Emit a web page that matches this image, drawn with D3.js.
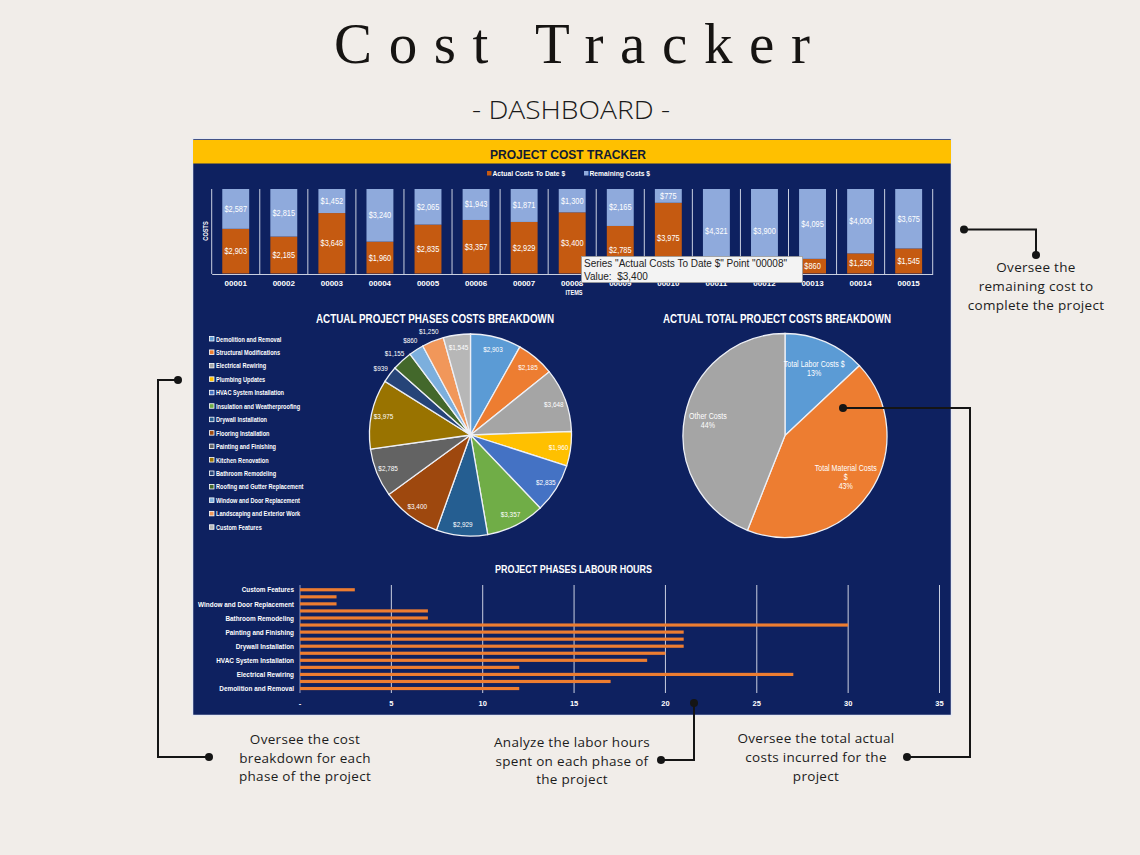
<!DOCTYPE html>
<html><head><meta charset="utf-8">
<script src="https://cdn.jsdelivr.net/npm/d3@7/dist/d3.min.js"></script>
<style>
body{margin:0;background:#f1ede9;}
svg{display:block;}
</style></head>
<body>
<svg id="chart" width="1140" height="855"></svg>
<script>
// ---------- DATA ----------
const items = ["00001","00002","00003","00004","00005","00006","00007","00008","00009","00010","00011","00012","00013","00014","00015"];
const actualCosts = [2903,2185,3648,1960,2835,3357,2929,3400,2785,3975,0,0,860,1250,1545];
const remainingCosts = [2587,2815,1452,3240,2065,1943,1871,1300,2165,775,4321,3900,4095,4000,3675];
const seriesNames = ["Actual Costs To Date $","Remaining Costs $"];

const phases = ["Demolition and Removal","Structural Modifications","Electrical Rewiring","Plumbing Updates","HVAC System Installation","Insulation and Weatherproofing","Drywall Installation","Flooring Installation","Painting and Finishing","Kitchen Renovation","Bathroom Remodeling","Roofing and Gutter Replacement","Window and Door Replacement","Landscaping and Exterior Work","Custom Features"];
const phaseCosts = [2903,2185,3648,1960,2835,3357,2929,3400,2785,3975,939,1155,860,1250,1545];
const labourHours = [12,17,27,12,19,20,21,21,21,30,7,7,2,2,3];
const hourTicks = [0,5,10,15,20,25,30,35];

const totalCats = ["Total Labor Costs $","Total Material Costs $","Other Costs"];
const totalPct = [13,43,44];
const totalLabelLines = [["Total Labor Costs $"],["Total Material Costs","$"],["Other Costs"]];

const pieColors = ["#5B9BD5","#ED7D31","#A5A5A5","#FFC000","#4472C4","#70AD47","#255E91","#9E480E","#636363","#997300","#264478","#43682B","#7CAFDD","#F1975A","#B7B7B7"];

// ---------- SETUP ----------
const SANS = "'Liberation Sans',Arial,sans-serif";
const NAVY = "#0e2160";
const svg = d3.select("#chart");
// condense text horizontally (emulates a narrow face)
function narrow(sel, f){
  sel.each(function(){
    const w = this.getComputedTextLength();
    if(w>0){ this.setAttribute("textLength", w*f); this.setAttribute("lengthAdjust","spacingAndGlyphs"); }
  });
  return sel;
}

// Title
svg.append("text").attr("x",334).attr("y",63).attr("textLength",476).attr("lengthAdjust","spacing")
  .style("font-family","'Liberation Serif','DejaVu Serif',serif").style("font-size","57px").attr("fill","#161412")
  .text("Cost Tracker");
svg.append("text").attr("x",472).attr("y",119).attr("textLength",198).attr("lengthAdjust","spacingAndGlyphs")
  .style("font-family","'Open Sans',sans-serif").style("font-weight",300).style("font-size","25px").attr("fill","#1a1a1a")
  .text("- DASHBOARD -");

// Panel
svg.append("rect").attr("x",192.5).attr("y",138.5).attr("width",759).attr("height",577).attr("fill",NAVY).attr("stroke","#e8eaf2").attr("stroke-width",1.5);
svg.append("rect").attr("x",193).attr("y",140).attr("width",758).attr("height",23.5).attr("fill","#FFC000");
svg.append("text").attr("x",490).attr("y",158.5).attr("textLength",156).attr("lengthAdjust","spacingAndGlyphs")
  .style("font-family",SANS).style("font-weight","bold").style("font-size","13px").attr("fill","#111a33")
  .text("PROJECT COST TRACKER");

// ---------- STACKED 100% BAR ----------
const xB = d3.scaleBand().domain(items).range([211.7,932.7]).padding(0);
const yB = d3.scaleLinear().domain([0,1]).range([273.5,189]);
const barW = xB.bandwidth()*0.56;
const gBar = svg.append("g");
gBar.selectAll("line.sep").data(d3.range(items.length+1)).join("line")
  .attr("x1",i=>211.7+i*xB.step()).attr("x2",i=>211.7+i*xB.step())
  .attr("y1",189).attr("y2",274).attr("stroke","#c9cfe0").attr("stroke-width",1);
const stackData = items.map((it,i)=>({it,a:actualCosts[i],r:remainingCosts[i],t:actualCosts[i]+remainingCosts[i]}));
stackData.forEach(d=>{
  const x0 = xB(d.it)+(xB.bandwidth()-barW)/2;
  const yA = yB(d.a/d.t);
  gBar.append("rect").attr("x",x0).attr("width",barW).attr("y",yA).attr("height",yB(0)-yA).attr("fill","#C55A11");
  gBar.append("rect").attr("x",x0).attr("width",barW).attr("y",yB(1)).attr("height",yA-yB(1)).attr("fill","#8FAADC");
  const cx = xB(d.it)+xB.bandwidth()/2;
  if(d.a>0) narrow(gBar.append("text").attr("x",cx).attr("y",(yA+yB(0))/2+3).attr("text-anchor","middle")
    .style("font-family",SANS).style("font-size","9px").attr("fill","#fff").text(d3.format("$,")(d.a)),0.82);
  narrow(gBar.append("text").attr("x",cx).attr("y",(yA+yB(1))/2+3).attr("text-anchor","middle")
    .style("font-family",SANS).style("font-size","9px").attr("fill","#fff").text(d3.format("$,")(d.r)),0.82);
});
const xAxisB = gBar.append("g").attr("transform","translate(0,274)").call(d3.axisBottom(xB).tickSize(0).tickPadding(6));
xAxisB.select(".domain").attr("stroke","#c9cfe0");
xAxisB.selectAll("text").style("font-family",SANS).style("font-weight","bold").style("font-size","8px").attr("fill","#fff");
narrow(svg.append("text").attr("transform","translate(208,231) rotate(-90)").attr("text-anchor","middle")
  .style("font-family",SANS).style("font-weight","bold").style("font-size","7px").attr("fill","#fff").text("COSTS"),0.8);
narrow(svg.append("text").attr("x",574).attr("y",295).attr("text-anchor","middle")
  .style("font-family",SANS).style("font-weight","bold").style("font-size","7px").attr("fill","#fff").text("ITEMS"),0.8);
const lg = [{x:487,c:"#C55A11",t:seriesNames[0]},{x:584,c:"#8FAADC",t:seriesNames[1]}];
lg.forEach(l=>{
  svg.append("rect").attr("x",l.x).attr("y",171).attr("width",4.5).attr("height",4.5).attr("fill",l.c);
  narrow(svg.append("text").attr("x",l.x+5.5).attr("y",176).style("font-family",SANS).style("font-weight","bold").style("font-size","8px").attr("fill","#fff").text(l.t),0.84);
});

// ---------- LEFT PIE ----------
svg.append("text").attr("x",316).attr("y",322.5).attr("textLength",238).attr("lengthAdjust","spacingAndGlyphs")
  .style("font-family",SANS).style("font-weight","bold").style("font-size","12px").attr("fill","#fff")
  .text("ACTUAL PROJECT PHASES COSTS BREAKDOWN");
const pie = d3.pie().sort(null).value(d=>d);
const R1 = 101;
const gP1 = svg.append("g").attr("transform","translate(470.5,435)");
const arcs1 = pie(phaseCosts);
const tot1 = d3.sum(phaseCosts);
gP1.selectAll("path").data(arcs1).join("path").attr("d",d3.arc().innerRadius(0).outerRadius(R1))
  .attr("fill",(d,i)=>pieColors[i]).attr("stroke","#eef0f6").attr("stroke-width",1.3);
narrow(gP1.selectAll("text").data(arcs1).join("text").each(function(d){
  const a=(d.startAngle+d.endAngle)/2;
  const small = d.value/tot1 < 0.04;
  const rr = small ? R1*1.11 : R1*0.88;
  d3.select(this).attr("x",Math.sin(a)*rr).attr("y",-Math.cos(a)*rr+3);
}).attr("text-anchor","middle").style("font-family",SANS).style("font-size","8px").attr("fill","#fff")
  .text(d=>d3.format("$,")(d.value)),0.8);
phases.forEach((p,i)=>{
  const y = 339+i*13.45;
  svg.append("rect").attr("x",209.5).attr("y",y-2.5).attr("width",4.5).attr("height",4.5).attr("fill",pieColors[i]).attr("stroke","#fff").attr("stroke-width",0.8);
  narrow(svg.append("text").attr("x",216).attr("y",y+2.5).style("font-family",SANS).style("font-weight","bold").style("font-size","7px").attr("fill","#fff").text(p),0.8);
});

// ---------- RIGHT PIE ----------
svg.append("text").attr("x",663).attr("y",323).attr("textLength",228).attr("lengthAdjust","spacingAndGlyphs")
  .style("font-family",SANS).style("font-weight","bold").style("font-size","12px").attr("fill","#fff")
  .text("ACTUAL TOTAL PROJECT COSTS BREAKDOWN");
const R2 = 102;
const gP2 = svg.append("g").attr("transform","translate(785,435.5)");
const arcs2 = pie(totalPct);
gP2.selectAll("path").data(arcs2).join("path").attr("d",d3.arc().innerRadius(0).outerRadius(R2))
  .attr("fill",(d,i)=>pieColors[i]).attr("stroke","#eef0f6").attr("stroke-width",1.3);
const labR = [0.72,0.72,0.77];
arcs2.forEach((d,i)=>{
  const a=(d.startAngle+d.endAngle)/2;
  const cx=Math.sin(a)*R2*labR[i], cy=-Math.cos(a)*R2*labR[i];
  const lines = totalLabelLines[i].concat([totalPct[i]+"%"]);
  const t = gP2.append("text").attr("text-anchor","middle").style("font-family",SANS).style("font-size","8.5px").attr("fill","#fff");
  lines.forEach((ln,k)=>{
    narrow(t.append("tspan").attr("x",cx).attr("y",cy+3+(k-(lines.length-1)/2)*9.2).text(ln),0.83);
  });
});

// ---------- LABOUR HOURS ----------
svg.append("text").attr("x",495).attr("y",573).attr("textLength",157).attr("lengthAdjust","spacingAndGlyphs")
  .style("font-family",SANS).style("font-weight","bold").style("font-size","11px").attr("fill","#fff")
  .text("PROJECT PHASES LABOUR HOURS");
const xH = d3.scaleLinear().domain([0,35]).range([300,939.5]);
const yH = d3.scaleBand().domain(phases).range([694,584.3]).padding(0.55);
const gH = svg.append("g");
gH.selectAll("line.g").data(hourTicks).join("line")
  .attr("x1",d=>xH(d)).attr("x2",d=>xH(d)).attr("y1",585).attr("y2",693)
  .attr("stroke",d=>d===0?"#8f9cc4":"#c9cfe0").attr("stroke-width",1);
gH.selectAll("rect").data(phases).join("rect")
  .attr("x",xH(0)).attr("y",d=>yH(d)).attr("height",yH.bandwidth())
  .attr("width",(d,i)=>xH(labourHours[i])-xH(0)).attr("fill","#ED7D31");
gH.selectAll("text.tk").data(hourTicks).join("text")
  .attr("x",d=>xH(d)).attr("y",706).attr("text-anchor","middle")
  .style("font-family",SANS).style("font-weight","bold").style("font-size","7.5px").attr("fill","#fff")
  .text(d=>d===0?"-":d);
narrow(gH.selectAll("text.lb").data(phases.filter((p,i)=>i%2===0)).join("text")
  .attr("x",294).attr("y",d=>yH(d)+yH.bandwidth()/2+2.7).attr("text-anchor","end")
  .style("font-family",SANS).style("font-weight","bold").style("font-size","8px").attr("fill","#fff")
  .text(d=>d),0.8);

// ---------- TOOLTIP ----------
const tip = svg.append("g");
tip.append("rect").attr("x",581.5).attr("y",256.5).attr("width",221).attr("height",26).attr("fill","#f3f3f3").attr("stroke","#9a9a9a").attr("stroke-width",0.8);
tip.append("text").attr("x",584).attr("y",267).style("font-family",SANS).style("font-size","10px").attr("fill","#222")
  .text('Series "Actual Costs To Date $" Point "00008"');
tip.append("text").attr("x",584).attr("y",280).style("font-family",SANS).style("font-size","10px").attr("fill","#222")
  .style("white-space","pre").text("Value:  $3,400");

// ---------- ANNOTATIONS ----------
const ann = svg.append("g");
const paths = [
  [[964,229.5],[1036,229.5],[1036,255]],
  [[178,380],[158,380],[158,757],[209,757]],
  [[694,703],[694,760],[661,760]],
  [[843,408],[970,408],[970,757],[907,757]]
];
paths.forEach(p=>{
  ann.append("path").attr("d",d3.line()(p)).attr("fill","none").attr("stroke","#151515").attr("stroke-width",2);
  [p[0],p[p.length-1]].forEach(q=>ann.append("circle").attr("cx",q[0]).attr("cy",q[1]).attr("r",4).attr("fill","#151515"));
});
const notes = [
  {x:1036,y:[267,286,305],t:["Oversee the","remaining cost to","complete the project"]},
  {x:305,y:[739,758,776],t:["Oversee the cost","breakdown for each","phase of the project"]},
  {x:572,y:[742,761,779],t:["Analyze the labor hours","spent on each phase of","the project"]},
  {x:816,y:[738,757,776],t:["Oversee the total actual","costs incurred for the","project"]}
];
notes.forEach(n=>{
  n.t.forEach((s,k)=>ann.append("text").attr("x",n.x).attr("y",n.y[k]+5).attr("text-anchor","middle")
    .style("font-family","'Open Sans',sans-serif").style("font-weight",400).style("font-size","13.5px")
    .style("letter-spacing","0.3px").attr("fill","#1c1c1c").text(s));
});
</script>
</body></html>
